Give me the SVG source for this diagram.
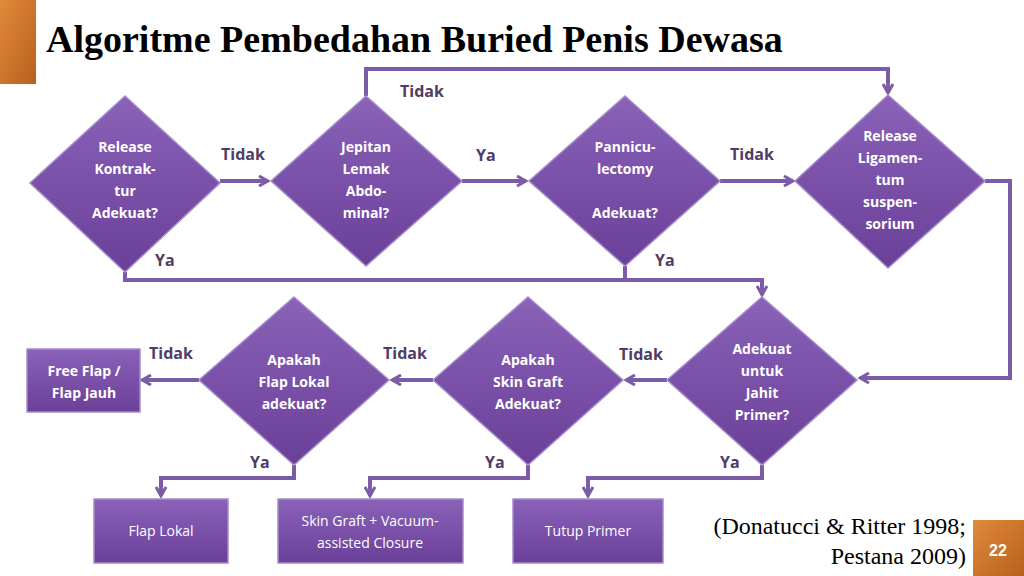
<svg xmlns="http://www.w3.org/2000/svg" width="1024" height="576" viewBox="0 0 1024 576">
<defs>
<linearGradient id="g" x1="0" y1="0" x2="0" y2="1"><stop offset="0" stop-color="#8a62b8"/><stop offset="1" stop-color="#6a3f98"/></linearGradient>
<linearGradient id="o" x1="0" y1="0" x2="1" y2="1"><stop offset="0" stop-color="#e08a3a"/><stop offset="1" stop-color="#b8601e"/></linearGradient>
<marker id="a" viewBox="0 0 12 12" refX="10" refY="6" markerWidth="12" markerHeight="12" markerUnits="userSpaceOnUse" orient="auto"><path d="M1,1 L10,6 L1,11" fill="none" stroke="#7b5ca6" stroke-width="3"/></marker>
</defs>
<style>
.n{fill:url(#g);stroke:#a58cc8;stroke-width:1.5}
.t{font-family:"Open Sans","Liberation Sans",sans-serif;font-size:14px;font-weight:bold;fill:#fff;text-anchor:middle}
.b{font-family:"Open Sans","Liberation Sans",sans-serif;font-size:14px;fill:#fff;text-anchor:middle}
.l{font-family:"Open Sans","Liberation Sans",sans-serif;font-size:16px;font-weight:bold;fill:#4f3d66}
.c{fill:none;stroke:#7b5ca6;stroke-width:4}
</style>
<rect width="1024" height="576" fill="#fff"/>
<rect x="0" y="0" width="36" height="84" fill="url(#o)"/>
<text x="46" y="52" font-family="Liberation Serif,serif" font-size="38" font-weight="bold" fill="#000">Algoritme Pembedahan Buried Penis Dewasa</text>
<g id="connectors">
<path class="c" d="M220,181 H268" marker-end="url(#a)"/>
<path class="c" d="M462,181 H526" marker-end="url(#a)"/>
<path class="c" d="M720,181 H793" marker-end="url(#a)"/>
<path class="c" d="M366,96 V69 H888 V93" marker-end="url(#a)"/>
<path class="c" d="M985,181 H1010 V378 H860" marker-end="url(#a)"/>
<path class="c" d="M125,272 V280 H762 V295" marker-end="url(#a)"/>
<path class="c" d="M625,266 V280"/>
<path class="c" d="M667,380 H626" marker-end="url(#a)"/>
<path class="c" d="M433,380 H392" marker-end="url(#a)"/>
<path class="c" d="M199,380 H142" marker-end="url(#a)"/>
<path class="c" d="M762,465 V478 H588 V496" marker-end="url(#a)"/>
<path class="c" d="M528,465 V478 H370 V496" marker-end="url(#a)"/>
<path class="c" d="M294,465 V478 H161 V496" marker-end="url(#a)"/>
<text class="l" x="221" y="160">Tidak</text>
<text class="l" x="476" y="161">Ya</text>
<text class="l" x="730" y="160">Tidak</text>
<text class="l" x="400" y="97">Tidak</text>
<text class="l" x="155" y="266">Ya</text>
<text class="l" x="655" y="266">Ya</text>
<text class="l" x="149" y="359">Tidak</text>
<text class="l" x="383" y="359">Tidak</text>
<text class="l" x="619" y="360">Tidak</text>
<text class="l" x="250" y="468">Ya</text>
<text class="l" x="485" y="468">Ya</text>
<text class="l" x="720" y="468">Ya</text>
</g>
<g id="d1"><polygon class="n" points="125,96 220,183 125,272 30,183"/>
<text class="t" x="125" y="152">Release</text><text class="t" x="125" y="174">Kontrak-</text><text class="t" x="125" y="196">tur</text><text class="t" x="125" y="218">Adekuat?</text></g>
<g id="d2"><polygon class="n" points="366,96 462,181 366,266 271,181"/>
<text class="t" x="366" y="152">Jepitan</text><text class="t" x="366" y="174">Lemak</text><text class="t" x="366" y="196">Abdo-</text><text class="t" x="366" y="218">minal?</text></g>
<g id="d3"><polygon class="n" points="625,96 720,181 625,266 529,181"/>
<text class="t" x="625" y="152">Pannicu-</text><text class="t" x="625" y="174">lectomy</text><text class="t" x="625" y="218">Adekuat?</text></g>
<g id="d4"><polygon class="n" points="888,95 985,181 888,268 795,181"/>
<text class="t" x="890" y="141">Release</text><text class="t" x="890" y="163">Ligamen-</text><text class="t" x="890" y="185">tum</text><text class="t" x="890" y="207">suspen-</text><text class="t" x="890" y="229">sorium</text></g>
<g id="d5"><polygon class="n" points="762,297 857,380 762,465 667,380"/>
<text class="t" x="762" y="354">Adekuat</text><text class="t" x="762" y="376">untuk</text><text class="t" x="762" y="398">Jahit</text><text class="t" x="762" y="420">Primer?</text></g>
<g id="d6"><polygon class="n" points="528,297 623,380 528,465 433,380"/>
<text class="t" x="528" y="365">Apakah</text><text class="t" x="528" y="387">Skin Graft</text><text class="t" x="528" y="409">Adekuat?</text></g>
<g id="d7"><polygon class="n" points="294,297 389,380 294,465 199,380"/>
<text class="t" x="294" y="365">Apakah</text><text class="t" x="294" y="387">Flap Lokal</text><text class="t" x="294" y="409">adekuat?</text></g>
<g id="freeflap"><rect class="n" x="27" y="349" width="113" height="63"/>
<text class="t" x="84" y="376">Free Flap /</text><text class="t" x="84" y="398">Flap Jauh</text></g>
<g id="flaplokal"><rect class="n" x="94" y="499" width="134" height="64"/>
<text class="b" x="161" y="536">Flap Lokal</text></g>
<g id="skingraft"><rect class="n" x="278" y="499" width="185" height="64"/>
<text class="b" x="370" y="526">Skin Graft + Vacuum-</text><text class="b" x="370" y="548">assisted Closure</text></g>
<g id="tutup"><rect class="n" x="513" y="499" width="150" height="64"/>
<text class="b" x="588" y="536">Tutup Primer</text></g>
<text x="966" y="534" font-family="Liberation Serif,serif" font-size="24" fill="#000" text-anchor="end">(Donatucci &amp; Ritter 1998;</text>
<text x="966" y="564" font-family="Liberation Serif,serif" font-size="24" fill="#000" text-anchor="end">Pestana 2009)</text>
<rect x="973" y="520" width="51" height="56" fill="url(#o)"/>
<text x="998" y="556" font-family="Liberation Sans,sans-serif" font-size="16" font-weight="bold" fill="#fff" text-anchor="middle">22</text>
</svg>
